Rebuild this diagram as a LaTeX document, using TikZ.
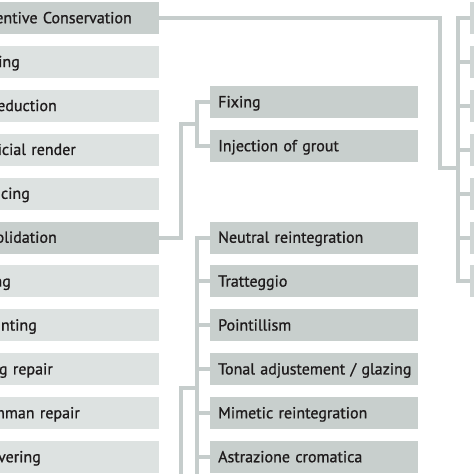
\documentclass[tikz,border=0pt]{standalone}
\usepackage{fontspec}
\setmainfont{PT Sans}[FakeBold=0.9]
\definecolor{lightc}{RGB}{221,226,225}
\definecolor{darkc}{RGB}{200,207,205}
\definecolor{midc}{RGB}{208,214,213}
\definecolor{linec}{RGB}{198,205,204}
\definecolor{txtc}{RGB}{30,27,28}
\newcommand{\padr}[1]{\rule{#1pt}{0pt}}
\begin{document}
\begin{tikzpicture}[x=1pt,y=-1pt,
  basebox/.style={rectangle, minimum height=32pt, inner ysep=0pt,
    text height=13.5pt, text depth=3pt, text=txtc,
    font=\fontsize{16}{18}\selectfont},
  lbox/.style={basebox, fill=lightc, anchor=east, text width=320pt, inner xsep=0pt, align=right},
  lboxd/.style={lbox, fill=darkc},
  rbox/.style={basebox, fill=darkc, anchor=west, text width=192pt, inner xsep=8pt, align=left},
  cbox/.style={rectangle, fill=midc, minimum height=32pt, minimum width=40pt, anchor=west, inner sep=0pt},
  conn/.style={draw=linec, line width=4pt, line join=miter}]
\useasboundingbox (0,0) rectangle (474,474);
\clip (0,0) rectangle (474,474);

% left column
\node[lboxd] (l1) at (159,18) {Preventive Conservation\padr{27}};
\node[lbox] (l2) at (159,61.9) {Cleaning\padr{139}};
\node[lbox] (l3) at (159,105.8) {Salt reduction\padr{102}};
\node[lbox] (l4) at (159,149.7) {Sacrificial render\padr{83}};
\node[lbox] (l5) at (159,193.6) {Replacing\padr{129}};
\node[lboxd] (l6) at (159,237.5) {Consolidation\padr{102}};
\node[lbox] (l7) at (159,281.4) {Pinning\padr{148}};
\node[lbox] (l8) at (159,325.3) {Repointing\padr{122}};
\node[lbox] (l9) at (159,369.2) {Filling repair\padr{106}};
\node[lbox] (l10) at (159,413.1) {Dutchman repair\padr{79}};
\node[lbox] (l11) at (159,457) {Recovering\padr{118}};

% middle column
\node[rbox] (fix) at (210,102) {Fixing};
\node[rbox] (inj) at (210,146) {Injection of grout};
\node[rbox] (m1) at (210,237.5) {Neutral reintegration};
\node[rbox] (m2) at (210,281.4) {Tratteggio};
\node[rbox] (m3) at (210,325.3) {Pointillism};
\node[rbox] (m4) at (210,369.2) {\mbox{Tonal adjustement / glazing}};
\node[rbox] (m5) at (210,413.1) {Mimetic reintegration};
\node[rbox] (m6) at (210,457) {Astrazione cromatica};

% right column (cropped)
\node[cbox] (c1) at (470,18) {};
\node[cbox] (c2) at (470,61.9) {};
\node[cbox] (c3) at (470,105.8) {};
\node[cbox] (c4) at (470,149.7) {};
\node[cbox] (c5) at (470,193.6) {};
\node[cbox] (c6) at (470,237.5) {};
\node[cbox] (c7) at (470,281.4) {};

% coordinates
\coordinate (pa) at (440,168);
\coordinate (bx) at (458,168);
\coordinate (ca) at (181,124);
\coordinate (jb) at (197,124);
\coordinate (lb) at (197,480);
\coordinate (la) at (181,480);
\coordinate (lc) at (181,388);

% connectors
\draw[conn] (l1.east) -| (pa) -- (bx);
\draw[conn] (c1.west) -- (c1.west -| bx) -- (c7.west -| bx) -- (c7.west);
\foreach \n in {c2,c3,c4,c5,c6} \draw[conn] (\n.west -| bx) -- (\n.west);

\draw[conn] (l6.east) -| (ca) -- (jb);
\draw[conn] (fix.west) -- (fix.west -| jb) -- (inj.west -| jb) -- (inj.west);

\draw[conn] (m1.west) -- (m1.west -| lb) -- (lb);
\foreach \n in {m2,m3,m4,m5,m6} \draw[conn] (\n.west -| lb) -- (\n.west);
\draw[conn] (la) -- (lc) -- (lc -| lb);
\end{tikzpicture}
\end{document}
